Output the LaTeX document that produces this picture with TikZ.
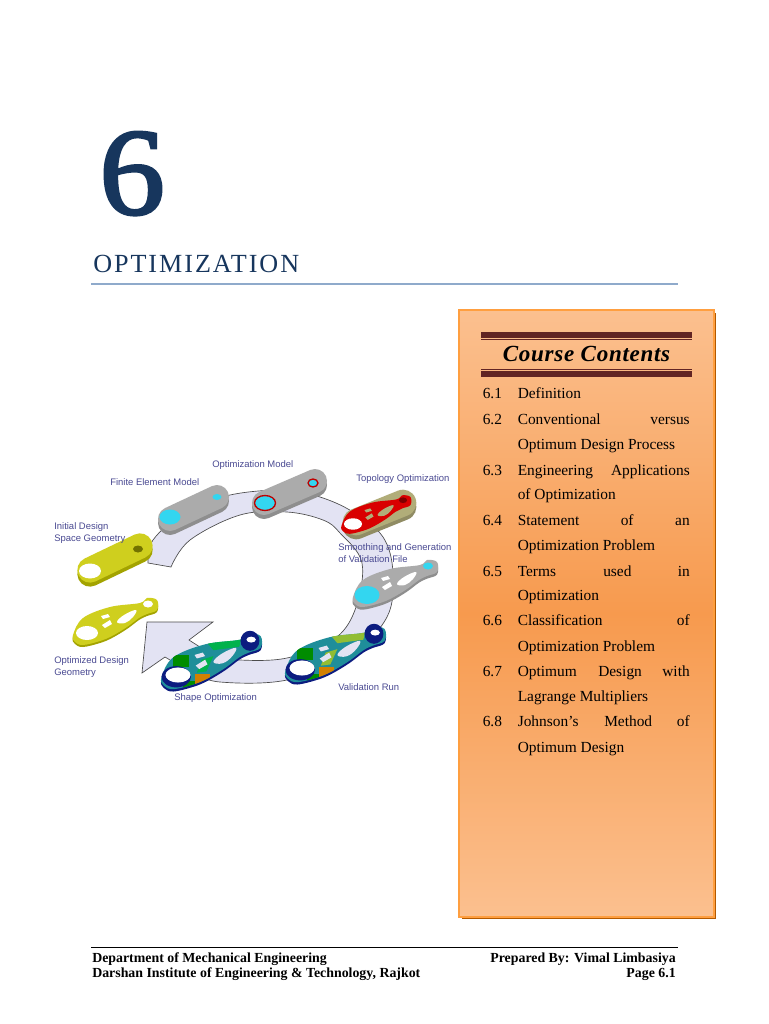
\documentclass[tikz,border=0pt]{standalone}
\usepackage{fontspec}
\setmainfont{Liberation Serif}
\newfontfamily\labfont{Liberation Sans}
\newfontfamily\headfont[LetterSpace=7.5]{Liberation Serif}
\newfontfamily\ccfont[LetterSpace=3]{Liberation Serif}
\newfontfamily\footfont{Liberation Serif}
\newfontfamily\sixfont[FakeBold=2.2,FakeStretch=1.06]{Liberation Serif}
\usetikzlibrary{calc}
\definecolor{navy}{HTML}{17365D}
\definecolor{maroon}{HTML}{622423}
\definecolor{labc}{HTML}{4A4A92}
\definecolor{panelA}{HTML}{FBC08F}
\definecolor{panelB}{HTML}{F79A4E}
\definecolor{band}{HTML}{E3E3F3}
\definecolor{yelTop}{HTML}{CFCF1E}
\definecolor{yelSide}{HTML}{A3A300}
\definecolor{grayTop}{HTML}{ABABAB}
\definecolor{graySide}{HTML}{8E8E8E}
\definecolor{cyanpart}{HTML}{33D6F0}
\definecolor{febody}{HTML}{1F8E9A}
\definecolor{feblue}{HTML}{0C1C80}
\definecolor{hrule}{HTML}{8FAACB}
\tikzset{
  partlabel/.style={font=\labfont\fontsize{7.1}{8.6}\selectfont,text=labc,align=left,anchor=west,inner sep=0pt},
  lst/.style={font=\fontsize{11.55}{14}\selectfont,anchor=base west,inner sep=0pt,text=black},
  lstr/.style={font=\fontsize{11.55}{14}\selectfont,anchor=base east,inner sep=0pt,text=black},
  foot/.style={font=\footfont\bfseries\fontsize{10.4}{12}\selectfont,anchor=base west,inner sep=0pt},
  footr/.style={font=\footfont\bfseries\fontsize{10.4}{12}\selectfont,anchor=base east,inner sep=0pt},
}
\newcommand\capsule[7]{%
  \draw[line width=#5,line cap=round,color=#6] (#1,#2+4) -- (#3,#4+4);
  \draw[line width=#5,line cap=round,color=#7] (#1,#2) -- (#3,#4);
}
\newcommand\boneoutline{plot[smooth cycle,tension=.6] coordinates {(-14,2) (-4,-15) (23,-26) (53,-30) (60,-35) (70,-33) (70,-23) (60,-19) (52,-15) (40,-6) (25,3) (13,8) (-4,12) (-12,9)}}
\newcommand\bonewindows[1]{%
  \fill[#1] plot[smooth cycle,tension=.7] coordinates {(30,-11) (37,-18) (49,-23) (46,-16) (38,-10)};
  \fill[#1] (15,-8) -- (23,-13) -- (25,-9) -- (18,-5) -- cycle;
  \fill[#1] (14,-17) -- (21,-19) -- (23,-16) -- (16,-14) -- cycle;
}
\newcommand\febone[2]{%
  \begin{scope}[shift={(#1)},scale=1.18]
    \fill[feblue,yshift=-1.5pt] \boneoutline;
    \begin{scope}
      \clip \boneoutline;
      \fill[febody] (-30,-50) rectangle (90,30);
      \fill[green!55!black] (-4,-17) rectangle (9,-7);
      \fill[#2] (24,-28) -- (54,-33) -- (52,-24) -- (30,-21) -- cycle;
      \fill[#2] (20,-13) -- (30,-16) -- (24,-3) -- (16,-2) -- cycle;
      \fill[orange!65!olive] (14,-1) rectangle (27,9);
      \fill[green!55!black] (4,5) rectangle (14,12);
    \end{scope}
    \bonewindows{band}
    \fill[feblue] (-1.5,1.5) ellipse [x radius=12.5,y radius=9];
    \fill[white] (0,0) ellipse [x radius=10.6,y radius=6.4];
    \fill[feblue] (61,-29) ellipse [x radius=8,y radius=8.5];
    \fill[white] (62,-30) ellipse [x radius=4,y radius=2.5];
  \end{scope}
}
\begin{document}
\begin{tikzpicture}[x=.75pt,y=-.75pt]
\useasboundingbox (0,0) rectangle (768,1024);
\fill[white] (0,0) rectangle (768,1024);

% heading
\node[anchor=base west,inner sep=0pt,text=navy,font=\sixfont\fontsize{93}{93}\selectfont] (num) at (99,214) {6};
\node[anchor=base west,inner sep=0pt,text=navy,font=\headfont\fontsize{19.6}{24}\selectfont] (title) at (93,272) {OPTIMIZATION};
\coordinate (hrA) at (91,284); \coordinate (hrB) at (678,284);
\draw[color=hrule,line width=.8pt] (hrA) -- (hrB);

% panel
\fill[color=orange!70!black] (462,313) rectangle (716,919);
\shade[top color=panelA,bottom color=panelA,middle color=panelB,draw=orange!75!white,line width=.9pt] (459,310) rectangle (714,917);
\fill[maroon] (481,332) rectangle (692,338);
\fill[maroon] (481,339.2) rectangle (692,340);
\fill[maroon] (481,369) rectangle (692,369.8);
\fill[maroon] (481,371) rectangle (692,377);
\node[inner sep=0pt,font=\ccfont\bfseries\itshape\fontsize{17.3}{20}\selectfont] (cc) at (586.5,353.5) {Course Contents};

% list
\node[lst] (n1) at (482.5,398) {6.1}; \node[lst] (t1) at (517.5,398) {Definition};
\node[lst] (n2) at (482.5,424) {6.2}; \node[lst] (t2) at (517.5,424) {Conventional}; \node[lstr] (r2) at (690,424) {versus};
\node[lst] (t2b) at (517.5,449) {Optimum Design Process};
\node[lst] (n3) at (482.5,475) {6.3}; \node[lst] (t3) at (517.5,475) {Engineering}; \node[lstr] (r3) at (690,475) {Applications};
\node[lst] (t3b) at (517.5,499) {of Optimization};
\node[lst] (n4) at (482.5,525) {6.4}; \node[lst] (t4) at (517.5,525) {Statement}; \node[lst] (m4) at (620.5,525) {of}; \node[lstr] (r4) at (690,525) {an};
\node[lst] (t4b) at (517.5,550) {Optimization Problem};
\node[lst] (n5) at (482.5,576) {6.5}; \node[lst] (t5) at (517.5,576) {Terms}; \node[lst] (m5) at (603,576) {used}; \node[lstr] (r5) at (690,576) {in};
\node[lst] (t5b) at (517.5,600) {Optimization};
\node[lst] (n6) at (482.5,625) {6.6}; \node[lst] (t6) at (517.5,625) {Classification}; \node[lstr] (r6) at (690,625) {of};
\node[lst] (t6b) at (517.5,651) {Optimization Problem};
\node[lst] (n7) at (482.5,676) {6.7}; \node[lst] (t7) at (517.5,676) {Optimum}; \node[lst] (m7) at (598,676) {Design}; \node[lstr] (r7) at (690,676) {with};
\node[lst] (t7b) at (517.5,701) {Lagrange Multipliers};
\node[lst] (n8) at (482.5,726) {6.8}; \node[lst] (t8) at (517.5,726) {Johnson’s}; \node[lst] (m8) at (604,726) {Method}; \node[lstr] (r8) at (690,726) {of};
\node[lst] (t8b) at (517.5,752) {Optimum Design};

% ring arrow
\draw[fill=band,draw=black!70,line width=.5pt]
  plot[smooth,tension=.6] coordinates {(148,563) (153,540) (185,512) (230,495) (285,490) (320,497) (353,512) (383,537) (393,573) (387,617) (350,655) (287,680) (220,682) (190,672)}
  -- (165,657) -- (142,673) -- (147,622) -- (213,622) -- (189,640)
  -- plot[smooth,tension=.6] coordinates {(189,640) (215,655) (240,660) (287,658) (333,640) (355,610) (362,563) (340,533) (323,520) (287,512) (240,515) (190,540) (171,567)}
  -- cycle;

% initial yellow
\capsule{90}{570}{140}{546}{19pt}{yelSide}{yelTop}
\fill[white] (90,571) ellipse [x radius=11,y radius=7.5];
\fill[yelSide!70!black] (138,549) ellipse [x radius=5,y radius=3.5];

% FE gray
\capsule{170}{519}{217}{497}{18pt}{graySide}{grayTop}
\fill[cyanpart] (170,517) ellipse [x radius=10.5,y radius=7.5];
\fill[cyanpart] (217,497) ellipse [x radius=4.5,y radius=3];

% optimization model
\capsule{264}{503}{315}{481}{18pt}{graySide}{grayTop}
\fill[cyanpart,draw=red!75!black,line width=1pt] (265,503) ellipse [x radius=10.5,y radius=7.5];
\fill[cyanpart,draw=red!75!black,line width=1pt] (313,483) ellipse [x radius=5,y radius=4];

% topology: capsule behind, red bone
\capsule{356}{522}{403}{503}{20pt}{gray!70!olive}{gray!55!olive!70!white}
\begin{scope}[shift={(353,524)},scale=.82]
  \fill[red!85!black] \boneoutline;
  \bonewindows{gray!55!olive!70!white}
  \fill[white] (0,0) ellipse [x radius=11,y radius=7];
  \fill[red!50!black] (61,-29) ellipse [x radius=5,y radius=3.5];
\end{scope}

% smoothing gray bone
\begin{scope}[shift={(367,595)}]
  \fill[graySide,yshift=-2pt] \boneoutline;
  \fill[grayTop] \boneoutline;
  \bonewindows{white}
  \fill[cyanpart] (0,0) ellipse [x radius=12.5,y radius=9];
  \fill[cyanpart] (61,-29) ellipse [x radius=5,y radius=3.5];
\end{scope}

% optimized yellow
\begin{scope}[shift={(87,633)}]
  \fill[yelSide,yshift=-1.5pt] \boneoutline;
  \fill[yelTop] \boneoutline;
  \bonewindows{white}
  \fill[white] (0,0) ellipse [x radius=11,y radius=7];
  \fill[white] (61,-29) ellipse [x radius=5,y radius=3.5];
\end{scope}

% validation and shape
\febone{302,668}{yellow!60!green!85!black}
\febone{178,675}{teal!60!green}

% labels
\node[partlabel] (l1) at (54,533) {Initial Design\\Space Geometry};
\node[partlabel] (l2) at (110,482) {Finite Element Model};
\node[partlabel] (l3) at (212,465) {Optimization Model};
\node[partlabel] (l4) at (356,479) {Topology Optimization};
\node[partlabel] (l5) at (338,553) {Smoothing and Generation\\of Validation File};
\node[partlabel] (l6) at (54,667) {Optimized Design\\Geometry};
\node[partlabel] (l7) at (174,698) {Shape Optimization};
\node[partlabel] (l8) at (338,687) {Validation Run};

% footer
\coordinate (frA) at (91,947); \coordinate (frB) at (678,947);
\draw[line width=.7pt] (frA) -- (frB);
\node[foot] (f1) at (92,962) {Department of Mechanical Engineering};
\node[foot] (f2) at (92,977) {Darshan Institute of Engineering \& Technology, Rajkot};
\node[footr] (f3) at (676,962) {Prepared By: Vimal Limbasiya};
\node[footr] (f4) at (676,977) {Page 6.1};
\end{tikzpicture}
\end{document}
